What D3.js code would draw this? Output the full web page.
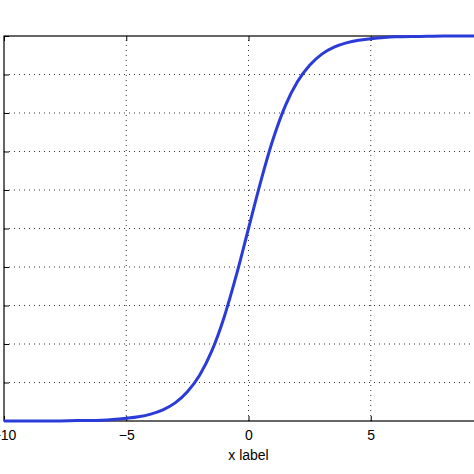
<!DOCTYPE html>
<html>
<head>
<meta charset="utf-8">
<script src="https://cdn.jsdelivr.net/npm/d3@7"></script>
<style>
  body { margin: 0; background: #fff; }
  svg { display: block; }
</style>
</head>
<body>
<svg id="chart"></svg>
<script>
// Values (curve samples)
const xValues = [-10, -9, -8, -7, -6, -5, -4.5, -4, -3.5, -3, -2.5, -2, -1.5, -1, -0.5,
                 0, 0.5, 1, 1.5, 2, 2.5, 3, 3.5, 4, 4.5, 5, 6, 7, 8, 9, 10];
const yValues = [0.000, 0.000, 0.000, 0.001, 0.002, 0.007, 0.011, 0.018, 0.029, 0.047, 0.076, 0.119, 0.182, 0.269, 0.378,
                 0.500, 0.622, 0.731, 0.818, 0.881, 0.924, 0.953, 0.971, 0.982, 0.989, 0.993, 0.998, 0.999, 1.000, 1.000, 1.000];
const xTicks = [-10, -5, 0, 5, 10];
const xTickLabels = [-10, -5, 0, 5];
const yTicks = [0, 0.1, 0.2, 0.3, 0.4, 0.5, 0.6, 0.7, 0.8, 0.9, 1];

const data = xValues.map((x, i) => ({x: x, y: yValues[i]}));

const width = 474, height = 474;
const svg = d3.select("#chart").attr("width", width).attr("height", height);

// Plot box: x=-10 sits at the left edge, right frame falls outside the window
const x = d3.scaleLinear().domain([-10, 10]).range([4, 493]);
const y = d3.scaleLinear().domain([0, 1]).range([421, 36]);

// Dotted grid
svg.append("g").selectAll("line")
    .data(xTicks.slice(1, -1))
    .enter().append("line")
    .attr("x1", d => x(d)).attr("x2", d => x(d))
    .attr("y1", y(0)).attr("y2", y(1))
    .attr("stroke", "#000").attr("stroke-width", 0.8)
    .attr("stroke-dasharray", "1,4");

svg.append("g").selectAll("line")
    .data(yTicks.slice(1, -1))
    .enter().append("line")
    .attr("x1", x(-10)).attr("x2", x(10))
    .attr("y1", d => y(d)).attr("y2", d => y(d))
    .attr("stroke", "#000").attr("stroke-width", 0.8)
    .attr("stroke-dasharray", "1,4");

// Frame
svg.append("rect")
    .attr("x", x(-10)).attr("y", y(1))
    .attr("width", x(10) - x(-10)).attr("height", y(0) - y(1))
    .attr("fill", "none").attr("stroke", "#000").attr("stroke-width", 1.2);

// Inward ticks
const xAxis = svg.append("g")
    .attr("transform", `translate(0,${y(0)})`)
    .call(d3.axisBottom(x).tickValues(xTickLabels).tickSizeInner(-5).tickSizeOuter(0)
        .tickPadding(9).tickFormat(d => d3.format("")(d).replace("-", "\u2212")));
xAxis.select(".domain").remove();
xAxis.selectAll("text").attr("font-family", "Liberation Sans, Arial, sans-serif")
    .attr("font-size", 14).attr("fill", "#000");

const yAxis = svg.append("g")
    .attr("transform", `translate(${x(-10)},0)`)
    .call(d3.axisLeft(y).tickValues(yTicks).tickSizeInner(-5).tickSizeOuter(0).tickFormat(""));
yAxis.select(".domain").remove();

// Top ticks
const xTop = svg.append("g")
    .attr("transform", `translate(0,${y(1)})`)
    .call(d3.axisTop(x).tickValues(xTicks).tickSizeInner(-5).tickSizeOuter(0).tickFormat(""));
xTop.select(".domain").remove();

// x label
svg.append("text")
    .attr("x", x(0)).attr("y", 460)
    .attr("text-anchor", "middle")
    .attr("font-family", "Liberation Sans, Arial, sans-serif")
    .attr("font-size", 14)
    .text("x label");

// Curve
svg.append("path")
    .datum(data)
    .attr("fill", "none")
    .attr("stroke", "#2a3bd8")
    .attr("stroke-width", 3)
    .attr("d", d3.line().x(d => x(d.x)).y(d => y(d.y)).curve(d3.curveMonotoneX));
</script>
</body>
</html>
